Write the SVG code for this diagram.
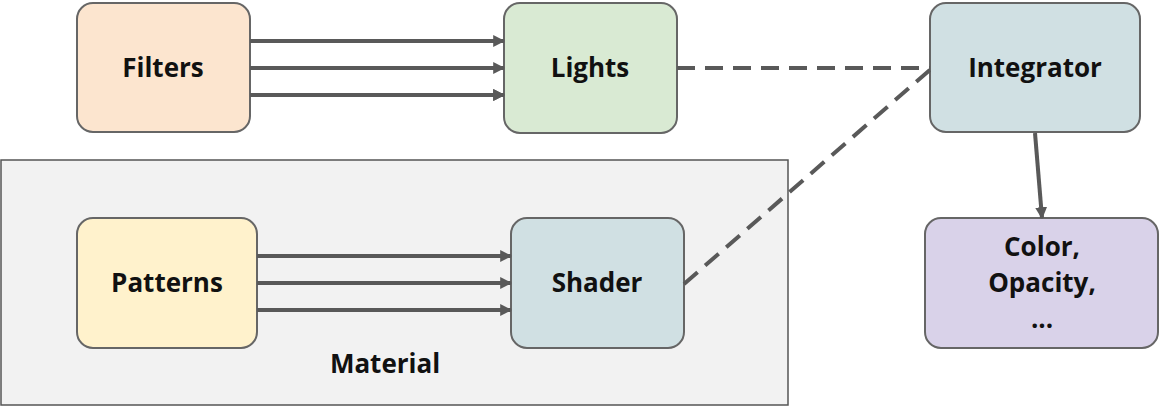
<svg xmlns="http://www.w3.org/2000/svg" width="1162" height="407" viewBox="0 0 1162 407">
<style>
.n{stroke:#666;stroke-width:2}
.t{font-family:"Open Sans","Liberation Sans",sans-serif;font-weight:bold;font-size:26px;fill:#111;text-anchor:middle}
.c{stroke:#595959;stroke-width:4;fill:none}
.a{marker-end:url(#ah)}
.d{stroke-dasharray:18 10}
</style>
<defs><marker id="ah" viewBox="0 0 10 10" refX="9" refY="5" markerWidth="3" markerHeight="3" orient="auto"><path d="M0,0L10,5L0,10z" fill="#595959"/></marker></defs>
<g id="material"><rect x="1" y="160" width="787" height="245" fill="#f2f2f2" stroke="#555" stroke-width="1.5"/><text class="t" x="385" y="373">Material</text></g>
<g id="filters"><rect class="n" x="77" y="3" width="173" height="129" rx="16" fill="#fce5cf"/><text class="t" x="163" y="77">Filters</text></g>
<g id="lights"><rect class="n" x="504" y="3" width="173" height="130" rx="16" fill="#d9ead3"/><text class="t" x="590" y="77">Lights</text></g>
<g id="integrator"><rect class="n" x="930" y="3" width="210" height="129" rx="16" fill="#d0e0e3"/><text class="t" x="1035" y="77">Integrator</text></g>
<g id="color"><rect class="n" x="925" y="218" width="233" height="130" rx="16" fill="#d9d2e9"/><text class="t" x="1042" y="256">Color,</text><text class="t" x="1042" y="292">Opacity,</text><text class="t" x="1042" y="328">...</text></g>
<g id="patterns"><rect class="n" x="77" y="218" width="180" height="130" rx="16" fill="#fff2cc"/><text class="t" x="167" y="292">Patterns</text></g>
<g id="shader"><rect class="n" x="511" y="218" width="173" height="130" rx="16" fill="#d0e0e3"/><text class="t" x="597" y="292">Shader</text></g>
<g id="connectors">
<path class="c a" d="M250,41H504M250,68H504M250,95H504"/>
<line class="c a" x1="250" y1="41" x2="504" y2="41"/><line class="c a" x1="250" y1="68" x2="504" y2="68"/><line class="c a" x1="250" y1="95" x2="504" y2="95"/>
<line class="c a" x1="257" y1="256" x2="511" y2="256"/><line class="c a" x1="257" y1="283" x2="511" y2="283"/><line class="c a" x1="257" y1="310" x2="511" y2="310"/>
<line class="c d" x1="677" y1="68" x2="930" y2="68"/>
<line class="c d" x1="684" y1="284" x2="932" y2="68"/>
<line class="c a" x1="1035" y1="133" x2="1042" y2="218"/>
</g>
</svg>
